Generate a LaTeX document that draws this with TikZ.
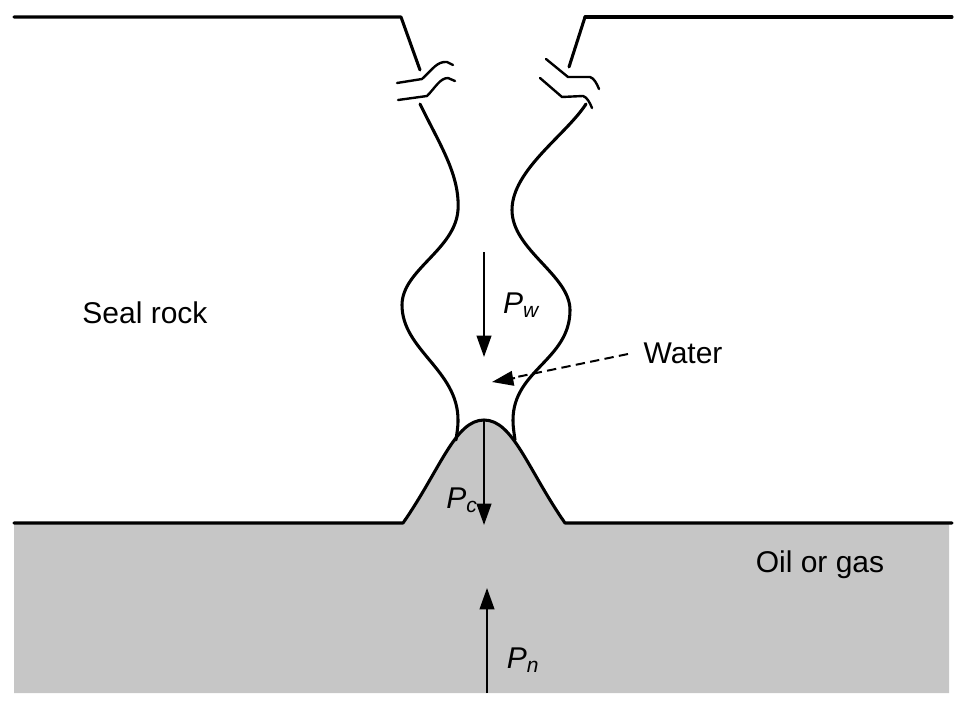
\documentclass[tikz,border=0pt]{standalone}
\usepackage{fontspec}
\setmainfont{Liberation Sans}
\usetikzlibrary{arrows.meta}
\begin{document}
\begin{tikzpicture}[x=0.75pt,y=-0.75pt,
  wall/.style={line width=2.3pt,line cap=round,line join=round},
  thin/.style={line width=1.5pt},
  arr/.style={thin,-{Triangle[length=16pt,width=11pt]}},
  lab/.style={font=\fontsize{22.5}{26}\selectfont}]
\useasboundingbox (0,0) rectangle (969,702);
\fill[gray!45] (14,523) -- (403,523) .. controls (440,470) and (455,420) .. (484,420) .. controls (513,420) and (528,470) .. (565,523) -- (949,523) -- (949,693) -- (14,693) -- cycle;
\draw[wall] (14,17) -- (401,17) -- (420,70);
\draw[wall] (585,17) -- (952,17);
\draw[wall] (585,17) -- (569,67);
% break marks
\draw[wall,line width=1.8pt] (397,83) -- (422,79) .. controls (432,70) and (437,61) .. (447,62) -- (453,65);
\draw[wall,line width=1.8pt] (398,100) -- (427,96) .. controls (435,88) and (440,78) .. (448,78) -- (455,81);
\draw[wall,line width=1.8pt] (546,59) -- (568,77) -- (590,77) .. controls (594,78) and (597,84) .. (599,89);
\draw[wall,line width=1.8pt] (540,78) -- (562,97) -- (583,96) .. controls (587,97) and (590,103) .. (592,108);
% left wall
\draw[wall] (420,104) .. controls (440,145) and (460,175) .. (458,210)
  .. controls (455,250) and (402,270) .. (402,305)
  .. controls (402,350) and (458,370) .. (458,420) .. controls (458,428) and (457,432) .. (456,440);
% right wall
\draw[wall] (586,104) .. controls (566,135) and (512,170) .. (512,210)
  .. controls (512,250) and (570,275) .. (570,310)
  .. controls (570,360) and (513,370) .. (513,420) .. controls (513,428) and (514,432) .. (515,440);
% bump outline and base line
\draw[wall] (14,523) -- (403,523) .. controls (440,470) and (455,420) .. (484,420) .. controls (513,420) and (528,470) .. (565,523) -- (952,523);
\coordinate (pwa) at (484,252); \coordinate (pwb) at (484,357);
\coordinate (pca) at (484,420); \coordinate (pcb) at (484,525);
\coordinate (pna) at (487,693); \coordinate (pnb) at (487,588);
\draw[arr] (pwa) -- (pwb);
\draw[arr] (pca) -- (pcb);
\draw[arr] (pna) -- (pnb);
\node[lab] (water) at (683,353) {Water};
\coordinate (wt) at (492,382);
\draw[thin,dash pattern=on 7pt off 4pt] (628,354) -- (512,378);
\draw[arr] (515,378) -- (wt);
\node[lab] (seal) at (145,313) {Seal rock};
\node[lab] (oil) at (820,565) {Oil or gas};
\node[lab] (pw) at (521,305) {\textit{P\textsubscript{w}}};
\node[lab] (pc) at (462,500) {\textit{P\textsubscript{c}}};
\node[lab] (pn) at (523,660) {\textit{P\textsubscript{n}}};
\end{tikzpicture}
\end{document}
